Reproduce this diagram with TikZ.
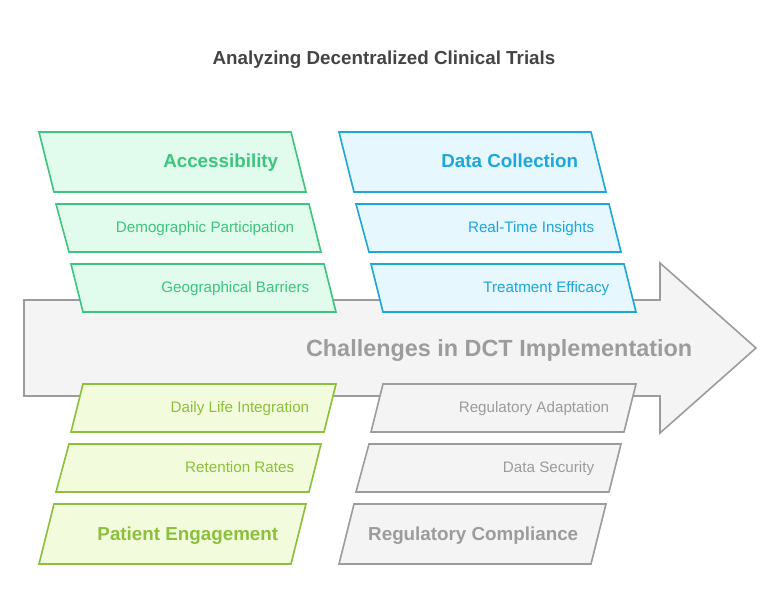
\documentclass[tikz,border=0pt]{standalone}
\usepackage{fontspec}
\setmainfont{Liberation Sans}
\definecolor{accgreen}{HTML}{3DC47E}
\definecolor{accfill}{HTML}{E1FBEC}
\definecolor{datablue}{HTML}{1DA7D9}
\definecolor{datafill}{HTML}{E6F7FD}
\definecolor{patlime}{HTML}{8CBF3C}
\definecolor{patfill}{HTML}{F2FCDD}
\definecolor{reggray}{HTML}{9C9C9C}
\definecolor{regfill}{HTML}{F4F4F4}
\definecolor{titlegray}{HTML}{444444}
\tikzset{
  headfont/.style={font=\fontsize{18.8}{22}\selectfont\bfseries},
  subfont/.style={font=\fontsize{15.2}{18}\selectfont},
  label/.style={anchor=base east, inner sep=0pt},
  accbox/.style={draw=accgreen, fill=accfill},
  databox/.style={draw=datablue, fill=datafill},
  patbox/.style={draw=patlime, fill=patfill},
  regbox/.style={draw=reggray, fill=regfill},
}
\begin{document}
\begin{tikzpicture}[x=1pt, y=-1pt, line width=1.6pt]
    \useasboundingbox (0,0) rectangle (780,612);
    \node[anchor=base, inner sep=0pt, text=titlegray, font=\fontsize{18.8}{22}\selectfont\bfseries] (title) at (384,65) {Analyzing Decentralized Clinical Trials};

    % the big arrow
    \draw[regbox] (24,300) -- (660,300) -- (660,263) -- (756,348) -- (660,433) -- (660,396) -- (24,396) -- cycle;
    \node[label, text=reggray, font=\fontsize{23.4}{28}\selectfont\bfseries] (challenges) at (693,357) {Challenges in DCT Implementation};

    % accessibility
    \draw[accbox] (39,132) -- (291,132) -- (306,192) -- (54,192) -- cycle;
    \node[label, headfont, text=accgreen] (access) at (279,168) {Accessibility};
    \draw[accbox] (56,204) -- (309,204) -- (321,252) -- (69,252) -- cycle;
    \node[label, subfont, text=accgreen] (demo) at (295,233) {Demographic Participation};
    \draw[accbox] (71,264) -- (324,264) -- (336,312) -- (83,312) -- cycle;
    \node[label, subfont, text=accgreen] (geo) at (310,293) {Geographical Barriers};

    % data collection
    \draw[databox] (339,132) -- (591,132) -- (606,192) -- (354,192) -- cycle;
    \node[label, headfont, text=datablue] (datacoll) at (579,168) {Data Collection};
    \draw[databox] (356,204) -- (609,204) -- (621,252) -- (369,252) -- cycle;
    \node[label, subfont, text=datablue] (realtime) at (595,233) {Real-Time Insights};
    \draw[databox] (371,264) -- (624,264) -- (636,312) -- (383,312) -- cycle;
    \node[label, subfont, text=datablue] (efficacy) at (610,293) {Treatment Efficacy};

    % patient engagement
    \draw[patbox] (83,384) -- (336,384) -- (324,432) -- (71,432) -- cycle;
    \node[label, subfont, text=patlime] (daily) at (310,413) {Daily Life Integration};
    \draw[patbox] (69,444) -- (321,444) -- (309,492) -- (56,492) -- cycle;
    \node[label, subfont, text=patlime] (retention) at (295,473) {Retention Rates};
    \draw[patbox] (54,504) -- (306,504) -- (291,564) -- (39,564) -- cycle;
    \node[label, headfont, text=patlime] (patient) at (279,540) {Patient Engagement};

    % regulatory compliance
    \draw[regbox] (383,384) -- (636,384) -- (624,432) -- (371,432) -- cycle;
    \node[label, subfont, text=reggray] (adapt) at (610,413) {Regulatory Adaptation};
    \draw[regbox] (369,444) -- (621,444) -- (609,492) -- (356,492) -- cycle;
    \node[label, subfont, text=reggray] (security) at (595,473) {Data Security};
    \draw[regbox] (354,504) -- (606,504) -- (591,564) -- (339,564) -- cycle;
    \node[label, headfont, text=reggray] (compliance) at (579,540) {Regulatory Compliance};
\end{tikzpicture}
\end{document}
